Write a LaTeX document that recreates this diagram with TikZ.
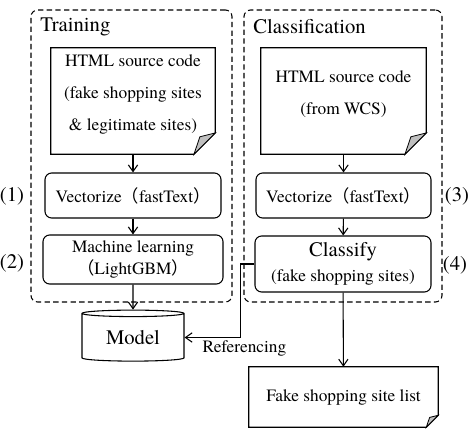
\documentclass[tikz,border=0pt]{standalone}
\usepackage{fontspec}
\setmainfont{texgyretermes}[Extension=.otf, UprightFont=*-regular,
  BoldFont=*-bold, ItalicFont=*-italic, BoldItalicFont=*-bolditalic]
\newfontfamily\cjk{Noto Sans CJK SC}
\usepackage{tikz}
\usetikzlibrary{shapes.geometric,arrows.meta,positioning,calc}

\begin{document}
\begin{tikzpicture}[
    x=0.75pt, y=-0.75pt,
    >={Straight Barb[length=5pt,width=7pt]},
    group/.style={draw, dashed, dash pattern=on 4pt off 2.5pt, line width=0.8pt,
                  rounded corners=5pt, inner sep=0pt},
    doc/.style={inner sep=0pt, align=center, font=\fontsize{13}{24}\selectfont},
    stepbox/.style={draw, line width=0.8pt, rounded corners=5pt, inner sep=0pt,
                    align=center, font=\fontsize{13}{16.5}\selectfont},
    title/.style={anchor=west, inner sep=0pt, font=\fontsize{15.5}{18}\selectfont},
    num/.style={inner sep=0pt, font=\fontsize{15.5}{18}\selectfont},
    arr/.style={->, line width=0.8pt},
  ]
  \useasboundingbox (0,0) rectangle (474,431);

  % dashed groups
  \node[group, minimum width=150.75pt, minimum height=219pt] (train) at (131.5,156) {};
  \node[group, minimum width=148.5pt, minimum height=219pt] (classif) at (343,156) {};
  \node[title] (ttrain) at (40,27) {Training};
  \node[title] (tclass) at (253,27) {Classification};

  % training side
  \node[doc, text depth=12pt, minimum width=123pt, minimum height=79.5pt] (src1) at (133,101)
    {HTML source code\\(fake shopping sites\\\& legitimate sites)};
  \node[stepbox, minimum width=132pt, minimum height=33.75pt] (vec1) at (133,195.5)
    {Vectorize{\cjk （}fastText{\cjk ）}};
  \node[stepbox, minimum width=135pt, minimum height=36.75pt] (ml) at (133,259.5)
    {Machine learning\\{\cjk （}LightGBM{\cjk ）}};
  \node[draw, line width=0.8pt, cylinder, shape border rotate=90, aspect=0.12,
        minimum width=76.5pt, minimum height=38.25pt, inner sep=0pt,
        font=\fontsize{15.5}{18}\selectfont] (model) at (133,337.5) {Model};

  % classification side
  \node[doc, text depth=12pt, minimum width=123.75pt, minimum height=79.5pt] (src2) at (343.5,101)
    {HTML source code\\(from WCS)};
  \node[stepbox, minimum width=131.25pt, minimum height=33.75pt] (vec2) at (343.5,195.5)
    {Vectorize{\cjk （}fastText{\cjk ）}};
  \node[stepbox, minimum width=132pt, minimum height=42pt,
        font=\fontsize{13}{18.5}\selectfont] (cls) at (343,264)
    {{\fontsize{15.5}{18}\selectfont Classify}\\(fake shopping sites)};
  \node[doc, minimum width=141.75pt, minimum height=45pt] (out) at (343.5,397)
    {Fake shopping site list};

  % document outlines with folded corner
  \foreach \d/\f in {src1/16pt,src2/16pt,out/9pt}{
    \draw[line width=0.8pt] (\d.north west) -- (\d.north east) -- ([yshift=\f]\d.south east)
      -- ([xshift=-\f]\d.south east) -- (\d.south west) -- cycle;
    \draw[line width=0.6pt, fill=black!25] ([xshift=-\f]\d.south east) -- ([yshift=\f]\d.south east)
      -- ([xshift=-0.72*\f, yshift=0.82*\f]\d.south east) -- cycle;
  }

  % step numbers
  \node[num] (n1) at (12,196) {(1)};
  \node[num] (n2) at (12,263) {(2)};
  \node[num] (n3) at (457,196) {(3)};
  \node[num] (n4) at (455,265) {(4)};

  \draw[arr] (src1) -- (vec1);
  \draw[arr] (vec1) -- (ml);
  \draw[arr] (ml) -- (model);
  \draw[arr] (src2) -- (vec2);
  \draw[arr] (vec2) -- (cls);
  \draw[arr] (cls) -- (out);
  \draw[arr] (cls.west) -- ([xshift=-10.5pt]cls.west) |- (model.east)
    node[pos=0.5, below, xshift=3pt, inner sep=2pt, font=\fontsize{13}{16}\selectfont] {Referencing};

\end{tikzpicture}
\end{document}
